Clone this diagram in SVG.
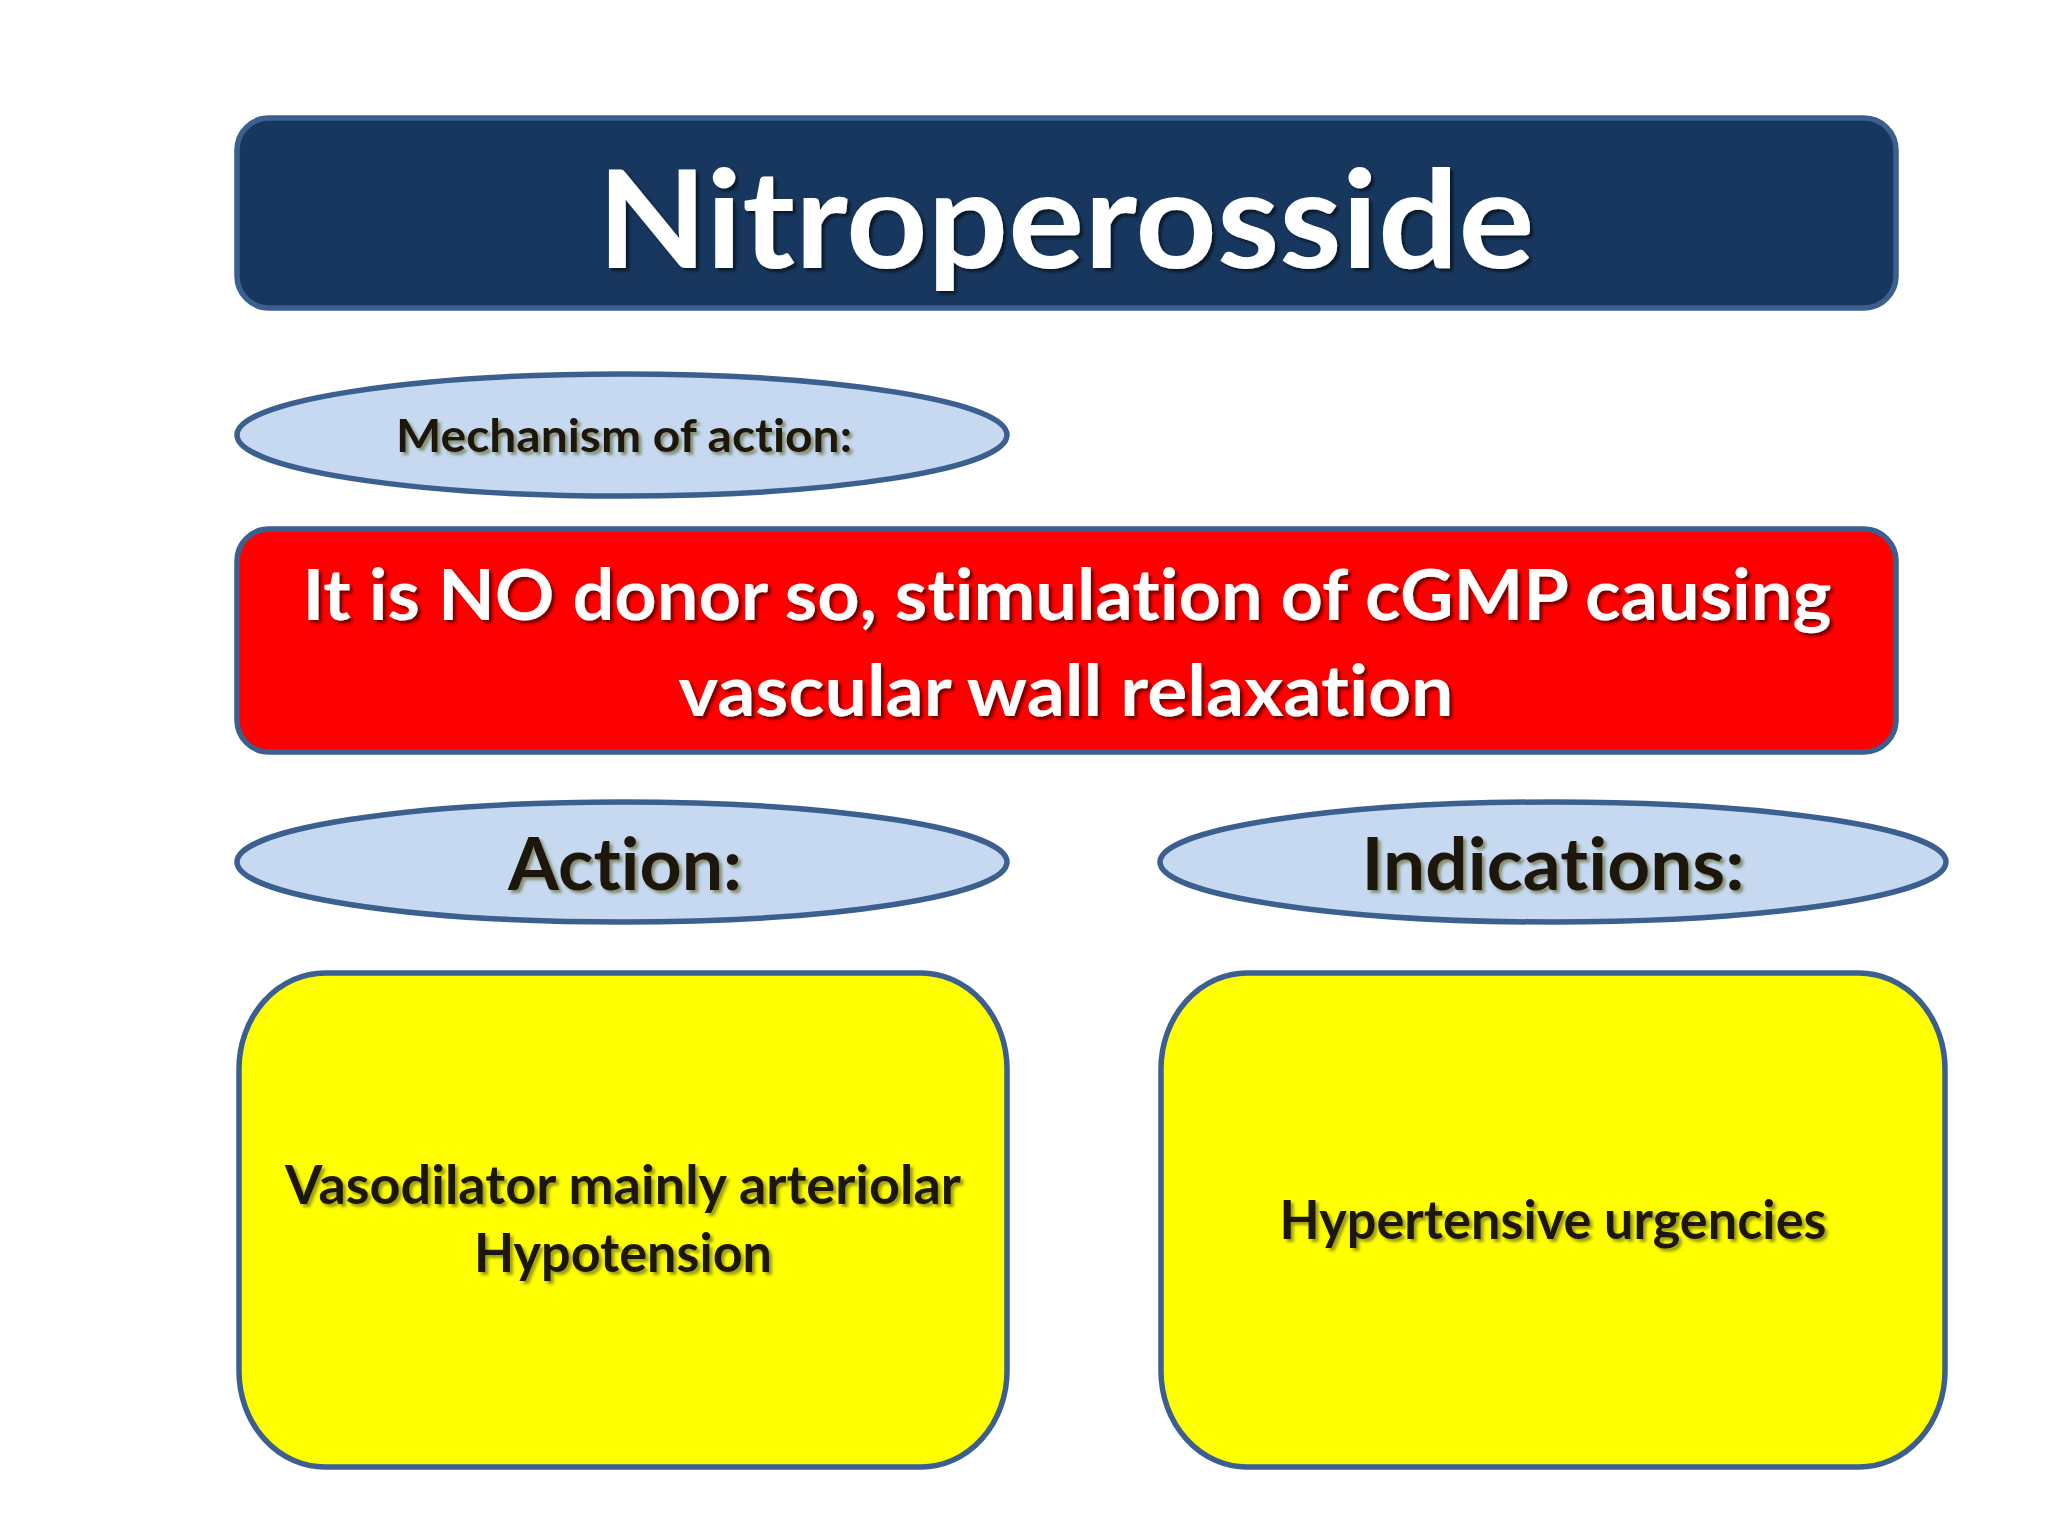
<svg xmlns="http://www.w3.org/2000/svg" width="2048" height="1536" viewBox="0 0 2048 1536">
<defs>
<filter id="ts" x="-5%" y="-20%" width="110%" height="140%">
<feDropShadow dx="3" dy="3" stdDeviation="1.5" flood-color="#000" flood-opacity="0.55"/>
</filter>
<filter id="tsd" x="-5%" y="-20%" width="110%" height="140%">
<feDropShadow dx="3" dy="3" stdDeviation="1.5" flood-color="#5a5a20" flood-opacity="0.6"/>
</filter>
</defs>
<style>
.box{stroke:#3b5f8e;stroke-width:5.5}
.title{fill:#17375e}
.red{fill:#ff0000}
.ell{fill:#c6d9f1}
.yel{fill:#ffff00}
text{font-family:Lato,"Open Sans","Liberation Sans",sans-serif;font-weight:bold;text-anchor:middle;font-variant-ligatures:none;font-feature-settings:"liga" 0,"dlig" 0}
.w{fill:#ffffff;filter:url(#ts)}
.k{fill:#1b1810;filter:url(#tsd)}
</style>
<rect width="2048" height="1536" fill="#ffffff"/>
<g id="title">
<rect class="box title" x="237" y="118" width="1659" height="190" rx="32"/>
<text class="w" x="1066" y="268" font-size="136" textLength="937" lengthAdjust="spacingAndGlyphs">Nitroperosside</text>
</g>
<g id="mechanism">
<ellipse class="box ell" cx="622" cy="435" rx="385" ry="61"/>
<text class="k" x="624" y="452" font-size="45" textLength="456" lengthAdjust="spacingAndGlyphs">Mechanism of action:</text>
</g>
<g id="mechanism-text">
<rect class="box red" x="237" y="529" width="1659" height="223" rx="32"/>
<text class="w" x="1067" y="620" font-size="71" textLength="1529" lengthAdjust="spacingAndGlyphs">It is NO donor so, stimulation of cGMP causing</text>
<text class="w" x="1066" y="716" font-size="71" textLength="775" lengthAdjust="spacingAndGlyphs">vascular wall relaxation</text>
</g>
<g id="action">
<ellipse class="box ell" cx="622" cy="862" rx="385" ry="60"/>
<text class="k" x="625" y="890" font-size="73" textLength="234" lengthAdjust="spacingAndGlyphs">Action:</text>
</g>
<g id="indications">
<ellipse class="box ell" cx="1553" cy="862" rx="393" ry="60"/>
<text class="k" x="1553" y="890" font-size="73" textLength="383" lengthAdjust="spacingAndGlyphs">Indications:</text>
</g>
<g id="action-text">
<rect class="box yel" x="239" y="973" width="768" height="494" rx="86" ry="96"/>
<text class="k" x="623" y="1204" font-size="53" textLength="676" lengthAdjust="spacingAndGlyphs">Vasodilator mainly arteriolar</text>
<text class="k" x="623" y="1272" font-size="53" textLength="298" lengthAdjust="spacingAndGlyphs">Hypotension</text>
</g>
<g id="indications-text">
<rect class="box yel" x="1161" y="973" width="784" height="494" rx="86" ry="96"/>
<text class="k" x="1553" y="1239" font-size="53" textLength="547" lengthAdjust="spacingAndGlyphs">Hypertensive urgencies</text>
</g>
<g id="connectors"/>
</svg>
